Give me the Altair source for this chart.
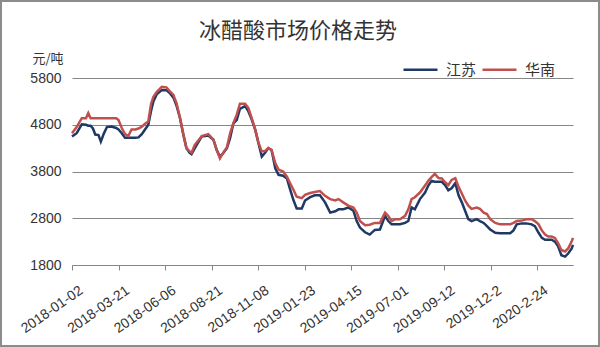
import altair as alt
import pandas as pd

# positions along the x axis, in units of one tick interval
pos = [0.00, 0.10, 0.21, 0.30, 0.35, 0.40, 0.45, 0.50, 0.57, 0.62, 0.68, 0.75, 0.85, 0.95,
       1.00, 1.07, 1.14, 1.21, 1.28, 1.36, 1.43, 1.50, 1.57, 1.64, 1.70, 1.75, 1.82, 1.93,
       2.03, 2.10, 2.18, 2.25, 2.32, 2.39, 2.46, 2.53, 2.57, 2.64, 2.79, 2.93, 3.04, 3.11,
       3.18, 3.25, 3.33, 3.40, 3.47, 3.54, 3.61, 3.72, 3.79, 3.86, 3.94, 4.01, 4.08, 4.15,
       4.22, 4.29, 4.37, 4.44, 4.54, 4.62, 4.69, 4.76, 4.83, 4.94, 5.01, 5.12, 5.22, 5.33,
       5.44, 5.55, 5.66, 5.73, 5.83, 5.94, 6.05, 6.12, 6.19, 6.30, 6.40, 6.51, 6.62, 6.73,
       6.80, 6.87, 6.95, 7.05, 7.16, 7.23, 7.30, 7.37, 7.48, 7.59, 7.66, 7.73, 7.80, 7.88,
       7.95, 8.02, 8.09, 8.16, 8.24, 8.31, 8.38, 8.45, 8.52, 8.59, 8.70, 8.77, 8.85, 8.92,
       8.99, 9.10, 9.20, 9.31, 9.42, 9.49, 9.56, 9.67, 9.77, 9.88, 9.95, 10.03, 10.10, 10.17,
       10.24, 10.31, 10.38, 10.45, 10.52, 10.60, 10.67, 10.74, 10.77]

jiangsu = [4550, 4620, 4810, 4800, 4780, 4780, 4720, 4590, 4580, 4440, 4600, 4750, 4760, 4730,
           4700, 4620, 4520, 4520, 4520, 4520, 4530, 4600, 4700, 4800, 5100, 5300, 5450, 5540,
           5540, 5480, 5380, 5200, 4950, 4600, 4300, 4200, 4170, 4300, 4550, 4570, 4480, 4260,
           4120, 4190, 4300, 4520, 4830, 4900, 5140, 5200, 5090, 4920, 4690, 4400, 4120, 4200,
           4300, 4260, 3870, 3730, 3710, 3650, 3410, 3190, 3010, 3010, 3180, 3250, 3290, 3290,
           3140, 2920, 2950, 2990, 2990, 3030, 2960, 2740, 2600, 2500, 2450, 2550, 2560, 2850,
           2740, 2670, 2670, 2670, 2700, 2740, 3030, 2990, 3210, 3350, 3500, 3600, 3580, 3580,
           3580, 3510, 3400, 3440, 3550, 3290, 3140, 2960, 2780, 2740, 2780, 2740, 2700, 2630,
           2560, 2490, 2480, 2480, 2480, 2540, 2670, 2690, 2690, 2670, 2630, 2490, 2380, 2340,
           2340, 2340, 2300, 2200, 2010, 1980, 2050, 2150, 2230]

huanan = [4620, 4750, 4940, 4940, 5050, 4940, 4940, 4940, 4940, 4940, 4940, 4940, 4940, 4940,
          4900, 4730, 4600, 4560, 4700, 4700, 4720, 4760, 4820, 4870, 5250, 5400, 5500, 5610,
          5600, 5520, 5440, 5250, 4950, 4620, 4300, 4230, 4200, 4370, 4560, 4600, 4480, 4264,
          4080, 4200, 4320, 4620, 4840, 5010, 5250, 5250, 5160, 4950, 4690, 4410, 4230, 4240,
          4300, 4260, 3980, 3840, 3800, 3690, 3550, 3410, 3260, 3230, 3300, 3340, 3360, 3380,
          3280, 3210, 3180, 3210, 3140, 3070, 3030, 2920, 2740, 2650, 2660, 2700, 2700, 2920,
          2850, 2740, 2780, 2780, 2850, 2990, 3210, 3250, 3350, 3500, 3600, 3680, 3750, 3660,
          3650, 3570, 3510, 3620, 3655, 3470, 3330, 3180, 3070, 3000, 3030, 3000, 2920, 2890,
          2780, 2700, 2670, 2670, 2670, 2700, 2740, 2750, 2780, 2780, 2740, 2670, 2540, 2450,
          2410, 2410, 2380, 2270, 2120, 2090, 2160, 2300, 2380]

tick_labels = ["2018-01-02", "2018-03-21", "2018-06-06", "2018-08-21", "2018-11-08",
               "2019-01-23", "2019-04-15", "2019-07-01", "2019-09-12", "2019-12-2", "2020-2-24"]
series = ["江苏", "华南"]
colors = ["#1F3864", "#C0504D"]
y_ticks = [1800, 2800, 3800, 4800, 5800]

df = pd.DataFrame({"pos": pos, "江苏": jiangsu, "华南": huanan})
long = df.melt(id_vars="pos", var_name="地区", value_name="价格")

label_expr = "[" + ",".join("'" + s + "'" for s in tick_labels) + "][datum.value]"

FONT = "Liberation Sans"
CJK = "Noto Sans CJK SC"

lines = alt.Chart(long).mark_line(strokeWidth=2.5).encode(
    x=alt.X("pos:Q",
            scale=alt.Scale(domain=[0, 10.77], nice=False, zero=False),
            axis=alt.Axis(values=list(range(len(tick_labels))), labelExpr=label_expr,
                          title=None, grid=False, domainColor="#868686", tickColor="#868686",
                          tickSize=5, labelAngle=-35, labelAlign="right", labelBaseline="top",
                          labelPadding=13, labelOffset=5, labelFont=FONT, labelFontSize=14,
                          labelColor="#333333", labelOverlap=False, labelFlush=False)),
    y=alt.Y("价格:Q",
            scale=alt.Scale(domain=[1800, 5800], nice=False, zero=False),
            axis=alt.Axis(values=y_ticks, format="d", title="元/吨", titleAngle=0,
                          titleAlign="left", titleBaseline="alphabetic", titleX=-40, titleY=-16,
                          titleFont=CJK, titleFontSize=13, titleFontWeight="normal",
                          titleColor="#333333", grid=True, gridColor="#868686", gridWidth=1,
                          domain=False, ticks=False, labelPadding=11, labelFont=FONT,
                          labelFontSize=14, labelColor="#333333")),
    color=alt.Color("地区:N",
                    scale=alt.Scale(domain=series, range=colors),
                    legend=alt.Legend(title=None, orient="none", direction="horizontal",
                                      legendX=330, legendY=-27, symbolType="stroke",
                                      symbolSize=1156, symbolStrokeWidth=2.5,
                                      labelFont=CJK, labelFontSize=15, labelColor="#333333",
                                      labelOffset=7, columnPadding=0)),
    order=alt.Order("地区:N", sort="descending"),
)

title_df = pd.DataFrame({"t": ["冰醋酸市场价格走势"]})
title = alt.Chart(title_df).mark_text(
    font=CJK, fontSize=22, color="#333333", align="center", baseline="alphabetic"
).encode(text="t:N", x=alt.value(226), y=alt.value(-40))

frame = alt.Chart(pd.DataFrame({"a": [0]})).mark_rect(
    fill="transparent", stroke="#8c8c8c", strokeWidth=2
).encode(x=alt.value(-71), x2=alt.value(527), y=alt.value(-77), y2=alt.value(268))

chart = alt.layer(lines, title, frame).properties(
    width=501, height=187,
    autosize=alt.AutoSizeParams(type="none"),
    padding={"left": 72, "top": 78, "right": 27, "bottom": 82},
    background="white",
).configure_view(stroke=None)

chart.save("out.html", embed_options={"renderer": "svg", "actions": False})
